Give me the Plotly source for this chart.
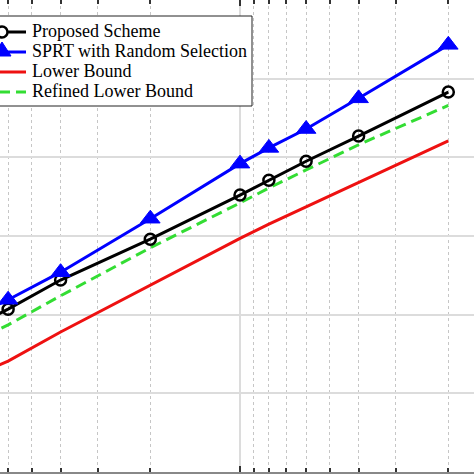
import plotly.graph_objects as go

# ---- data ----
x_vals = [0.08, 0.06, 0.04, 0.02, 0.01, 0.008, 0.006, 0.004, 0.002]
proposed = [18.3, 20.7, 24.4, 29.6, 35.2, 37.1, 39.5, 42.7, 48.3]
sprt_random = [19.6, 21.9, 25.4, 32.2, 39.2, 41.2, 43.6, 47.5, 54.3]
lower_bound = [12.1, 14.1, 17.8, 23.8, 29.7, 31.5, 33.7, 36.9, 42.1]
refined_lower = [16.4, 18.7, 22.4, 28.5, 34.2, 36.1, 38.4, 41.6, 46.6]

legend_labels = ["Proposed Scheme", "SPRT with Random Selection",
                 "Lower Bound", "Refined Lower Bound"]

W, H = 474, 474
MB = 2
PH = H - MB  # plot height in px

BLACK = "#000000"
BLUE = "#0000ff"
RED = "#ee1111"
GREEN = "#33dd33"

fig = go.Figure()
fig.add_trace(go.Scatter(x=x_vals, y=refined_lower, mode="lines",
                         line=dict(color=GREEN, width=3, dash="11px,6px"),
                         name=legend_labels[3]))
fig.add_trace(go.Scatter(x=x_vals, y=lower_bound, mode="lines",
                         line=dict(color=RED, width=3), name=legend_labels[2]))
fig.add_trace(go.Scatter(x=x_vals, y=proposed, mode="lines+markers",
                         line=dict(color=BLACK, width=3),
                         marker=dict(symbol="circle-open", size=11, color=BLACK,
                                     line=dict(width=2.5, color=BLACK)),
                         name=legend_labels[0]))
fig.add_trace(go.Scatter(x=x_vals, y=sprt_random, mode="lines+markers",
                         line=dict(color=BLUE, width=3),
                         marker=dict(symbol="triangle-up", size=17, color=BLUE,
                                     line=dict(width=1, color=BLUE)),
                         name=legend_labels[1]))

xr = [-1.1946, -2.7852]
major_ticks = [0.001, 0.01, 0.1]
minor_ticks = [m * 10.0 ** k for k in (-3, -2, -1) for m in range(2, 10)]

common_x = dict(type="log", range=xr, tickmode="array", tickvals=major_ticks,
                showticklabels=False, ticks="inside", ticklen=6, tickwidth=1.5,
                tickcolor="#333333", zeroline=False)

fig.update_layout(
    width=W, height=H,
    margin=dict(l=0, r=0, t=0, b=MB, autoexpand=False),
    paper_bgcolor="white", plot_bgcolor="white",
    showlegend=False,
    xaxis=dict(**common_x, showgrid=True, gridcolor="#dcdcdc", gridwidth=1.5,
               showline=True, linecolor="#888888", linewidth=2.5,
               minor=dict(tickmode="array", tickvals=minor_ticks, ticks="inside",
                          ticklen=4, tickwidth=1.5, tickcolor="#333333",
                          showgrid=True, gridcolor="#c6c6c6", gridwidth=1,
                          griddash="dot")),
    xaxis2=dict(**common_x, overlaying="x", side="top", anchor="y",
                showgrid=False, showline=False,
                minor=dict(tickmode="array", tickvals=minor_ticks, ticks="inside",
                           ticklen=4, tickwidth=1.5, tickcolor="#333333",
                           showgrid=False)),
    yaxis=dict(range=[0, 60], tickmode="linear", dtick=10, showticklabels=False,
               ticks="", showgrid=True, gridcolor="#dcdcdc", gridwidth=1.5,
               showline=False, zeroline=False),
)
# invisible trace to activate the top axis
fig.add_trace(go.Scatter(x=[x_vals[0]], y=[None], xaxis="x2", showlegend=False,
                         hoverinfo="skip"))


def px_x(p):
    return p / W


def px_y(p):
    return 1 - p / PH


# ---- manual legend (box, samples, real text) ----
shapes = [dict(type="rect", xref="paper", yref="paper", layer="above",
               x0=px_x(-20), x1=px_x(252), y0=px_y(106), y1=px_y(16),
               fillcolor="white", line=dict(color="#222222", width=1))]
rows = [32, 52, 72, 92]
colors = [BLACK, BLUE, RED, GREEN]
dashes = ["solid", "solid", "solid", "11px,6px"]
for r, c, d in zip(rows, colors, dashes):
    shapes.append(dict(type="line", xref="paper", yref="paper", layer="above",
                       x0=px_x(-18), x1=px_x(26), y0=px_y(r), y1=px_y(r),
                       line=dict(color=c, width=3, dash=d)))
shapes.append(dict(type="circle", xref="paper", yref="paper", layer="above",
                   xsizemode="pixel", ysizemode="pixel",
                   xanchor=px_x(2), yanchor=px_y(rows[0]),
                   x0=-5.5, x1=5.5, y0=-5.5, y1=5.5,
                   fillcolor="white", line=dict(color=BLACK, width=2.5)))
shapes.append(dict(type="path", xref="paper", yref="paper", layer="above",
                   xsizemode="pixel", ysizemode="pixel",
                   xanchor=px_x(2), yanchor=px_y(rows[1]),
                   path="M-9,-4 L9,-4 L0,10 Z",
                   fillcolor=BLUE, line=dict(color=BLUE, width=1)))

annotations = []
for r, label in zip(rows, legend_labels):
    annotations.append(dict(text=label, xref="paper", yref="paper",
                            x=px_x(30), y=px_y(r - 1), xanchor="left",
                            yanchor="middle", showarrow=False,
                            font=dict(family="Liberation Serif, Times New Roman, serif",
                                      size=18, color="black")))

fig.update_layout(shapes=shapes, annotations=annotations)

fig.write_html("out.html")
